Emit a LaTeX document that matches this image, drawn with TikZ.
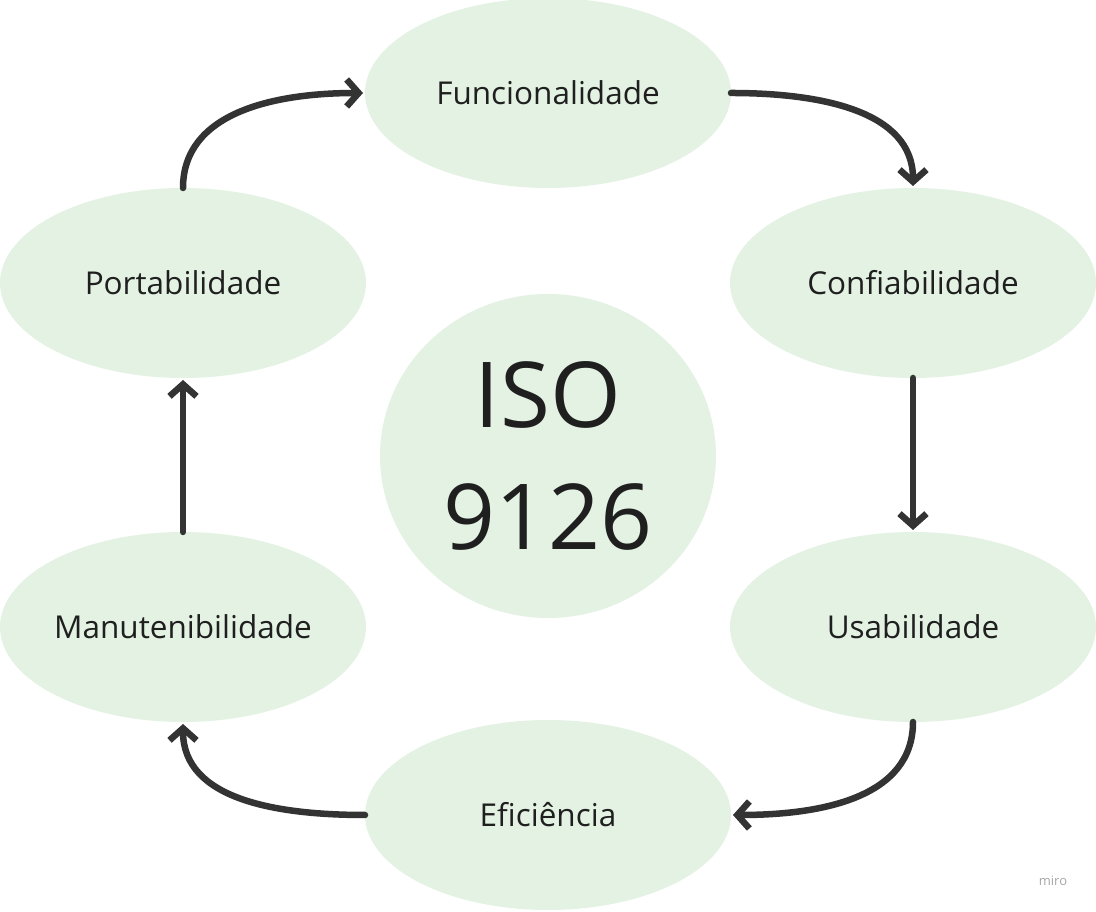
\documentclass[tikz,border=0pt]{standalone}
\usepackage{fontspec}
\setmainfont{Open Sans}
\usetikzlibrary{shapes.geometric,arrows.meta}
\definecolor{leaf}{HTML}{E3F2E3}
\definecolor{ink}{HTML}{1F1F1F}
\definecolor{wire}{HTML}{333333}
\tikzset{
  topic/.style={ellipse, fill=leaf, draw=none, outer sep=0pt, inner sep=0pt,
    minimum width=366pt, minimum height=190pt, text=ink,
    font=\fontsize{31.5}{38}\selectfont},
  flow/.style={draw=wire, line width=6.5pt, line cap=round,
    -{Straight Barb[length=12pt,width=27pt,line width=6.5pt]}}
}
\begin{document}
\begin{tikzpicture}[x=1pt,y=1pt]
\useasboundingbox (0,0) rectangle (1096,912);
\node[topic] (func) at (548,819) {Funcionalidade};
\node[topic] (conf) at (913,629) {Confiabilidade};
\node[topic] (usab) at (913,285) {Usabilidade};
\node[topic] (efic) at (548,97) {Eficiência};
\node[topic] (manu) at (183,285) {Manutenibilidade};
\node[topic] (port) at (183,629) {Portabilidade};
\node[ellipse, fill=leaf, outer sep=0pt, minimum width=336pt, minimum height=324pt,
  text=ink, align=center, font=\fontsize{91}{122}\selectfont] (iso) at (548,456) {ISO\\9126};
\node[text=black!35, font=\fontsize{13}{15}\selectfont] (miro) at (1053,31) {miro};
% ciclo
\draw[flow] (port.north) .. controls +(0,75) and +(-90,0) .. ([xshift=-2pt]func.west);
\draw[flow] (func.east) .. controls +(90,0) and +(0,75) .. ([yshift=2pt]conf.north);
\draw[flow] (conf.south) -- ([yshift=2pt]usab.north);
\draw[flow] (usab.south) .. controls +(0,-75) and +(90,0) .. ([xshift=2pt]efic.east);
\draw[flow] (efic.west) .. controls +(-90,0) and +(0,-75) .. ([yshift=-2pt]manu.south);
\draw[flow] (manu.north) -- ([yshift=-2pt]port.south);
\end{tikzpicture}
\end{document}
